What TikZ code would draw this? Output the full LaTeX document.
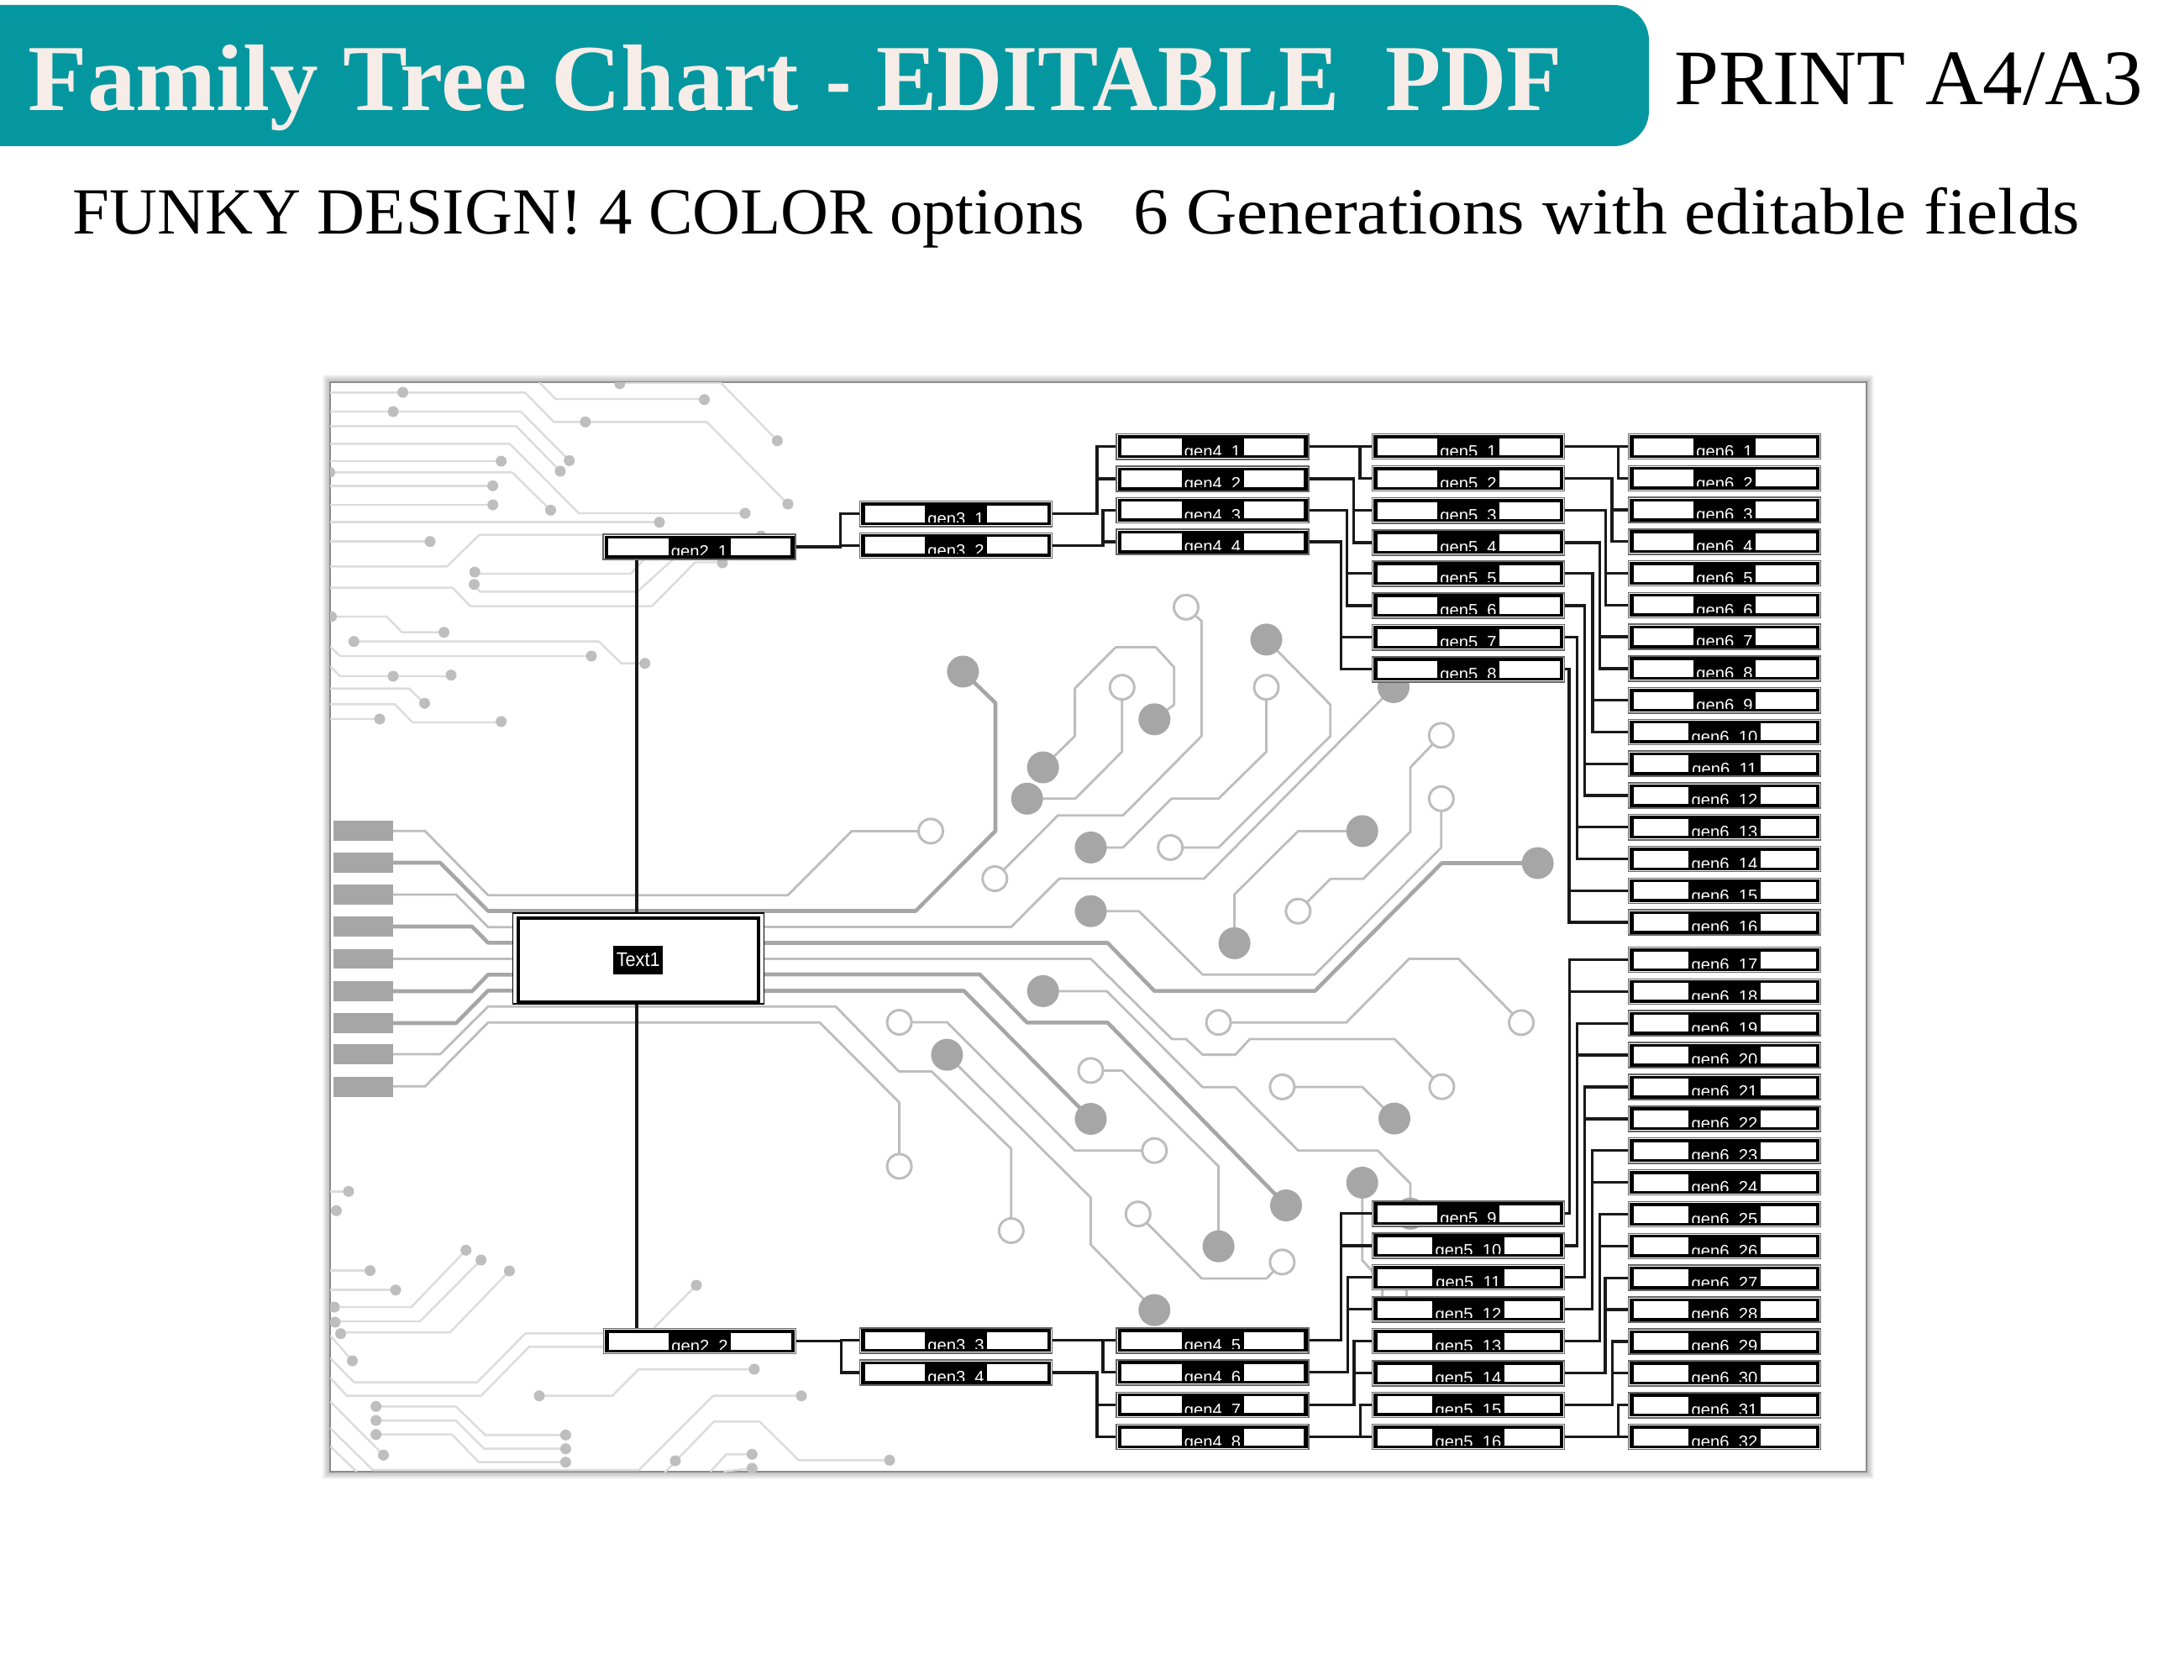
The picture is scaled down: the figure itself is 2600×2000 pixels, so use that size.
\documentclass[tikz,border=0pt]{standalone}
\usepackage{fontspec}
\setmainfont{Liberation Serif}
\newfontfamily\gensans{Liberation Sans}
\usetikzlibrary{calc}
\definecolor{bannerteal}{HTML}{05979F}
\definecolor{bannertext}{HTML}{F6EDE8}
\definecolor{padgray}{HTML}{A6A6A6}
\definecolor{tracegray}{HTML}{BDBDBD}
\definecolor{fadeline}{HTML}{DCDCDC}
\definecolor{fadepad}{HTML}{BEBEBE}
\tikzset{
	thintrace/.style={draw=tracegray, line width=0.8pt, line join=round},
	thicktrace/.style={draw=padgray, line width=1.3pt, line join=round},
	fadetrace/.style={draw=fadeline, line width=0.7pt, line join=round},
	openpad/.style={draw=tracegray, line width=0.85pt, fill=white},
	link/.style={draw=black!90, line width=0.95pt},
	genframe/.style={draw=black!60, line width=0.45pt, fill=white, minimum width=2.29cm, minimum height=0.3cm, inner sep=0pt},
	gentext/.style={text=white, inner sep=0pt, anchor=base, font=\gensans\fontsize{5.75pt}{6pt}\selectfont},
	headtext/.style={inner sep=0pt, anchor=base west}
}
\newcommand\gentag[2]{gen#1\hspace{0.556em}#2}
% name, x, y, generation, number, half width of the tab
\newcommand\genbox[6]{
	\node[genframe] (#1) at (#2,#3) {};
	\fill[black] (#2-113,#3-13.5) rectangle (#2+113,#3+13.5);
	\fill[white] (#2-108.5,#3-10) rectangle (#2-#6,#3+10);
	\fill[white] (#2+#6,#3-10) rectangle (#2+108.5,#3+10);
	\begin{scope}
		\clip (#2-#6,#3-14) rectangle (#2+#6,#3+9.5);
		\node[gentext] (#1t) at (#2,#3+12.8) {\gentag{#4}{#5}};
	\end{scope}
}
% parent, child, child, distance of the trunk from the children
\newcommand\genfork[4]{
	\draw[link] (#1.east) -| ($(#2.west)-(#4,0)$) -- (#2.west);
	\draw[link] (#1.east) -| ($(#3.west)-(#4,0)$) -- (#3.west);
}

\begin{document}
\begin{tikzpicture}[x=0.01cm,y=-0.01cm]
	\useasboundingbox (0,0) rectangle (2600,2000);
	\fill[white] (0,0) rectangle (2600,2000);
	%%%%% HEADER %%%%%
	\fill[bannerteal] (0,6) [rounded corners=0.42cm] -- (1963,6) -- (1963,174) [sharp corners] -- (0,174) -- cycle;
	\node[headtext, text=bannertext] (title) at (33,132) {\fontsize{32pt}{34pt}\selectfont\bfseries\resizebox{9.17cm}{\height}{Family Tree Chart}\hspace{0.32cm}\resizebox{0.3cm}{\height}{-}\hspace{0.3cm}\resizebox{8.16cm}{\height}{EDITABLE\ \ PDF}};
	\node[headtext] (print) at (1993,125) {\resizebox{5.57cm}{\height}{\fontsize{26.6pt}{28pt}\selectfont PRINT A4/A3}};
	\node[headtext] (subtitle) at (86,278) {\fontsize{22.3pt}{24pt}\selectfont\resizebox{12.04cm}{\height}{FUNKY DESIGN! 4 COLOR options}\hspace{0.58cm}\resizebox{11.26cm}{\height}{6 Generations with editable fields}};

	%%%%% SHEET %%%%%
	\foreach \d in {9,8,...,1}
		\fill[black, opacity=0.03] (393-\d,455-\d) rectangle (2222+\d,1752+\d);
	\draw[draw=black!45, line width=0.7pt, fill=white] (393,455) rectangle (2222,1752);

	%%%%% FADED CORNERS %%%%%
	\begin{scope}
		\clip (393,455) rectangle (2222,1752);
		% top left
		\draw[fadetrace] (393,467.3) -- (625,467.3) -- (659.4,502.3) -- (841.2,502.3) -- (938,600);
		\draw[fadetrace] (393,490) -- (620,490) -- (677.7,548.3);
		\draw[fadetrace] (393,507.3) -- (614.6,507.3) -- (667,561);
		\draw[fadetrace] (393,528.3) -- (606.6,528.3) -- (689.2,611) -- (887,611);
		\draw[fadetrace] (393,549) -- (596.6,549);
		\draw[fadetrace] (393,562.3) -- (609.6,562.3) -- (655.5,607.3);
		\draw[fadetrace] (393,578.3) -- (586.7,578.3);
		\draw[fadetrace] (393,601) -- (586.7,601);
		\draw[fadetrace] (393,621.7) -- (785,621.7);
		\draw[fadetrace] (393,644.7) -- (512,644.7);
		\draw[fadetrace] (393,674.3) -- (532.3,674.3) -- (570.6,636.7) -- (906,636.7);
		\draw[fadetrace] (642,455) -- (661.3,475) -- (838.5,475);
		\draw[fadetrace] (737,456) -- (858.4,456) -- (925.4,524.7);
		\draw[fadetrace] (565.2,683) -- (751,683) -- (766.5,666);
		\draw[fadetrace] (564.5,695.7) -- (571.4,704.3) -- (758.9,704.3) -- (801,666);
		\draw[fadetrace] (393,699.7) -- (538.8,699.7) -- (559.9,721.7) -- (776,721.7) -- (827.8,669.3) -- (860,669.3);
		\draw[fadetrace] (394.5,734) -- (460.4,734) -- (478.4,752.7) -- (528.5,752.7);
		\draw[fadetrace] (421.3,763.7) -- (713,763.7) -- (739.7,789.7) -- (767.7,789.7);
		\draw[fadetrace] (393,770) -- (404.9,781) -- (704,781);
		\draw[fadetrace] (393,793.3) -- (404.9,805) -- (537,805);
		\draw[fadetrace] (393,819.7) -- (487,819.7) -- (505.5,837.3);
		\draw[fadetrace] (393,838.3) -- (470,838.3) -- (491,860) -- (596.6,860);
		\draw[fadetrace] (393,856) -- (452,856);
		% bottom left
		\draw[fadetrace] (393,1418.3) -- (415,1418.3);
		\draw[fadetrace] (393,1512.7) -- (440.6,1512.7);
		\draw[fadetrace] (393,1535.7) -- (471,1535.7);
		\draw[fadetrace] (398,1556) -- (489.7,1556) -- (554.7,1488.3);
		\draw[fadetrace] (399,1573) -- (500,1573) -- (572.6,1500);
		\draw[fadetrace] (405.5,1586) -- (536,1586) -- (606.4,1513);
		\draw[fadetrace] (393,1590) -- (419.5,1620);
		\draw[fadetrace] (393,1616.7) -- (421.5,1645.7) -- (568,1645.7) -- (625.5,1587.3) -- (719,1587.3);
		\draw[fadetrace] (393,1640) -- (413,1661.7) -- (572.6,1661.7) -- (630,1603.3) -- (719,1603.3);
		\draw[fadetrace] (642,1661.7) -- (728.9,1661.7) -- (760.7,1630) -- (897.9,1630);
		\draw[fadetrace] (447.6,1674.3) -- (542.6,1674.3) -- (577.7,1708.3) -- (673.4,1708.3);
		\draw[fadetrace] (447.6,1691) -- (542.6,1691) -- (576.4,1724.7) -- (673.4,1724.7);
		\draw[fadetrace] (447.6,1707.7) -- (538,1707.7) -- (570,1740.7) -- (673.4,1740.7);
		\draw[fadetrace] (393,1668.3) -- (456.5,1732.3);
		\draw[fadetrace] (393,1700) -- (443.8,1750) -- (760.7,1750) -- (848.8,1661.7) -- (954,1661.7);
		\draw[fadetrace] (393,1721.7) -- (424.6,1752);
		\draw[fadetrace] (791.4,1752.7) -- (850,1692.3) -- (904.2,1692.3) -- (950.8,1738.3) -- (1059,1738.3);
		\draw[fadetrace] (845.6,1752) -- (864.7,1731.3) -- (895.3,1731.3);
		\draw[fadetrace] (861.5,1751.7) -- (895.3,1748);
		\draw[fadetrace] (829,1530) -- (778.6,1580.7);
		\foreach \p in {{479.5,467},{468,490},{677.7,548.3},{667,561},{596.6,549},{392.6,562.3},{655.5,607.3},
			{586.7,578.3},{586.7,601},{785,621.7},{512,644.7},{696.9,502.3},{838.5,475.7},{737.8,456.7},{925.4,524.7},
			{938,600},{887,611},{906,638},{565.2,681},{564.5,695.7},{860,670},{394.5,734},{528.5,752.7},{421.3,763.7},
			{767.7,789.7},{704,781},{468,805},{537,803.7},{505.5,837.3},{596.6,859},{452,856},
			{415,1418.3},{400.4,1441.3},{440.6,1512.7},{471,1535.7},{398,1556},{554.7,1488.3},{399,1574},{572.6,1500},
			{405.5,1587.7},{606.4,1513},{419.5,1620},{642,1661.7},{897.9,1630},{447.6,1674.3},{447.6,1691},{447.6,1707.7},
			{673.4,1708.3},{673.4,1724.7},{673.4,1740.7},{456.5,1732.3},{954,1661.7},{804,1739},{1059,1738.3},
			{895.3,1731.3},{895.3,1748},{829,1530}}
			\fill[fadepad] (\p) circle (6.5);
	\end{scope}

	%%%%% CIRCUIT %%%%%
	\foreach \y in {989,1027,1065,1103,1141.5,1180,1218,1255,1294}
		\fill[padgray] (397,\y-11.7) rectangle (467.5,\y+11.7);

	\draw[thintrace] (467.5,989.3) -- (506,989.3) -- (581,1065.7) -- (938,1065.7) -- (1014,989.4) -- (1108,989.4);
	\draw[thicktrace] (467.5,1027) -- (524,1027) -- (581,1084.5) -- (1090,1084.5) -- (1185,989.4) -- (1185,836.8) -- (1146.4,799.5);
	\draw[thintrace] (467.5,1065) -- (543,1065) -- (581,1103.7) -- (610,1103.7);
	\draw[thicktrace] (467.5,1103) -- (562,1103) -- (581,1122.3) -- (610,1122.3);
	\draw[thintrace] (467.5,1141.7) -- (610,1141.7);
	\draw[thicktrace] (467.5,1180) -- (562,1180) -- (581,1160.3) -- (610,1160.3);
	\draw[thicktrace] (467.5,1218) -- (543,1218) -- (581,1179.3) -- (610,1179.3);
	\draw[thintrace] (467.5,1255) -- (524,1255) -- (581,1198.3) -- (995,1198.3) -- (1070,1275.4) -- (1109,1275.4) -- (1203.8,1367.7) -- (1203.8,1465);
	\draw[thintrace] (467.5,1293.3) -- (506,1293.3) -- (581,1217.3) -- (976,1217.3) -- (1070.6,1312.5) -- (1070.6,1388.4);

	\draw[thintrace] (909,1103.5) -- (1203.8,1103.5) -- (1261,1046) -- (1433.4,1046) -- (1659,818);
	\draw[thicktrace] (909,1122.5) -- (1318.6,1122.5) -- (1374.3,1179.7) -- (1565.4,1179.7) -- (1716.4,1027.5) -- (1830.6,1027.5);
	\draw[thintrace] (909,1141.5) -- (1298.5,1141.5) -- (1395,1236.9) -- (1412,1236.9) -- (1431.7,1255.6) -- (1470.7,1255.6) -- (1488,1236.9) -- (1660,1236.9) -- (1716.4,1293.7);
	\draw[thicktrace] (909,1160) -- (1166.5,1160) -- (1222.7,1217.4) -- (1318.6,1217.4) -- (1531,1435);
	\draw[thicktrace] (909,1179.5) -- (1147.5,1179.5) -- (1298.5,1332);

	\draw[thintrace] (1412,722.8) -- (1430.5,739.4) -- (1430.5,876.2) -- (1337,970.7) -- (1259.5,970.7) -- (1184.3,1046);
	\draw[thintrace] (1374.3,856.3) -- (1397.8,838.9) -- (1397.8,794.5) -- (1376,770.5) -- (1328.4,770.5) -- (1279.6,819.4) -- (1279.6,876.2) -- (1241.7,913.5);
	\draw[thintrace] (1335.8,818.2) -- (1335.8,894.9) -- (1280,950.8) -- (1222.7,950.8);
	\draw[thintrace] (1507.5,818.2) -- (1507.5,894.9) -- (1450.6,950.8) -- (1394.4,950.8) -- (1337,1008.9) -- (1298.5,1008.9);
	\draw[thintrace] (1507.5,761.4) -- (1583.8,838.9) -- (1583.8,876.2) -- (1450.6,1008.9) -- (1393.2,1008.9);
	\draw[thintrace] (1715.8,875.4) -- (1679,913.5) -- (1679,990.2) -- (1622.8,1046.2) -- (1583.8,1046.2) -- (1545.4,1084.7);
	\draw[thintrace] (1621.7,989.4) -- (1545.4,989.4) -- (1469.6,1064.8) -- (1469.6,1122.9);
	\draw[thintrace] (1715.8,950.8) -- (1715.8,1008.9) -- (1565.4,1160.2) -- (1431.7,1160.2) -- (1355.9,1084.7) -- (1298.5,1084.7);
	\draw[thintrace] (1450.6,1217.2) -- (1602.8,1217.2) -- (1677.4,1141.5) -- (1736.5,1141.5) -- (1811,1217.4);
	\draw[thintrace] (1526.4,1293.9) -- (1621.7,1293.9) -- (1660,1331.6);
	\draw[thintrace] (1241.7,1179.9) -- (1317.5,1179.9) -- (1431.7,1294.3) -- (1470.7,1294.3) -- (1545.4,1369.7) -- (1640,1369.7) -- (1679,1409) -- (1679,1444);
	\draw[thintrace] (1621.7,1407.9) -- (1621.7,1500.3) -- (1640,1520);
	\draw[thintrace] (1070.6,1217) -- (1127.4,1217) -- (1279.6,1369.7) -- (1374.3,1369.7);
	\draw[thintrace] (1127.4,1255.7) -- (1298.5,1425.7) -- (1298.5,1481.7) -- (1374.3,1559.6);
	\draw[thintrace] (1298.5,1274.4) -- (1335.8,1274.4) -- (1450.6,1388.4) -- (1450.6,1483.7);
	\draw[thintrace] (1354.8,1445.2) -- (1430.5,1521.9) -- (1508,1521.9) -- (1526.4,1502.4);

	\foreach \p in {{1146.4,799.5},{1241.7,913.5},{1222.7,950.8},{1374.3,856.3},{1507.5,761.4},{1298.5,1008.9},{1298.5,1084.7},
		{1659,818},{1621.7,989.4},{1469.6,1122.9},{1830.6,1027.5},{1241.7,1179.9},{1127.4,1255.7},{1298.5,1332},{1660,1331.6},
		{1621.7,1407.9},{1531,1435},{1450.6,1483.7},{1374.3,1559.6},{1679,1444.8}}
		\fill[padgray] (\p) circle (19);
	\foreach \p in {{1412,722.8},{1335.8,818.2},{1507.5,818.2},{1108,989.4},{1184.3,1046},{1393.2,1008.9},{1715.8,875.4},{1715.8,950.8},
		{1545.4,1084.7},{1450.6,1217.2},{1811,1217.4},{1070.6,1217},{1716.4,1293.7},{1526.4,1293.9},{1298.5,1274.4},{1374.3,1369.7},
		{1070.6,1388.4},{1203.8,1465},{1354.8,1445.2},{1526.4,1502.4},{1660,1540}}
		\draw[openpad] (\p) circle (14.5);

	%%%%% ROOT %%%%%
	\node[draw=black, line width=0.35pt, fill=white, minimum width=2.99cm, minimum height=1.08cm, inner sep=0pt] (root) at (760,1141) {};
	\draw[black, line width=1pt] (617,1093) rectangle (903,1192.5);
	\node[fill=black, text=white, inner sep=0pt, minimum width=0.586cm, minimum height=0.34cm, font=\gensans\fontsize{6.7pt}{7pt}\selectfont] (rootlabel) at (759.7,1142.7) {\scalebox{0.92}[1]{Text1}};

	%%%%% BOXES %%%%%
	\genbox{g21}{832.5}{651}{2}{1}{37}
	\genbox{g22}{833}{1596.5}{2}{2}{37}
	\genbox{g31}{1138}{611.7}{3}{1}{37}
	\genbox{g32}{1138}{649.3}{3}{2}{37}
	\genbox{g33}{1138}{1595.7}{3}{3}{37}
	\genbox{g34}{1138}{1634}{3}{4}{37}
	\foreach \i/\y in {1/531.7,2/570,3/607.3,4/645,5/1595.7,6/1633.8,7/1672.4,8/1710.5}
		{\genbox{g4\i}{1443.5}{\y}{4}{\i}{37}}
	\foreach \i/\y/\w in {1/531.5/37,2/569.6/37,3/607.7/37,4/645.9/37,5/682.8/37,6/720.9/37,7/758.7/37,8/796.8/37,
		9/1444.8/37,10/1482.9/43,11/1520.6/43,12/1558.8/43,13/1596.5/43,14/1634.7/43,15/1672.4/43,16/1710.6/43}
		{\genbox{g5\i}{1748}{\y}{5}{\i}{\w}}
	\foreach \i/\y/\w in {1/531.5/37,2/569.3/37,3/607/37,4/644.8/37,5/682.6/37,6/720.4/37,7/758.1/37,8/795.9/37,
		9/833.7/37,10/871.4/43,11/909.2/43,12/947/43,13/984.7/43,14/1022.5/43,15/1060.3/43,16/1098/43,
		17/1142.5/43,18/1180.4/43,19/1218.2/43,20/1256.1/43,21/1294/43,22/1331.9/43,23/1369.7/43,24/1407.6/43,
		25/1445.5/43,26/1483.3/43,27/1521.2/43,28/1559.1/43,29/1597/43,30/1634.8/43,31/1672.7/43,32/1710.6/43}
		{\genbox{g6\i}{2053}{\y}{6}{\i}{\w}}

	%%%%% CONNECTORS %%%%%
	\draw[link] ([xshift=-0.02cm]root.north) -- ([xshift=-0.02cm]root.north |- g21.south);
	\draw[link] ([xshift=-0.02cm]root.south) -- ([xshift=-0.02cm]root.south |- g22.north);
	\genfork{g21}{g31}{g32}{22}
	\genfork{g22}{g33}{g34}{21}
	\genfork{g31}{g41}{g42}{22}
	\genfork{g32}{g43}{g44}{15}
	\genfork{g33}{g45}{g46}{15}
	\genfork{g34}{g47}{g48}{22}
	\genfork{g41}{g51}{g52}{13.6}
	\genfork{g42}{g53}{g54}{21}
	\genfork{g43}{g55}{g56}{29}
	\genfork{g44}{g57}{g58}{36.4}
	\genfork{g45}{g59}{g510}{36}
	\genfork{g46}{g511}{g512}{28}
	\genfork{g47}{g513}{g514}{20.5}
	\genfork{g48}{g515}{g516}{13}
	\genfork{g51}{g61}{g62}{11}
	\genfork{g52}{g63}{g64}{18.6}
	\genfork{g53}{g65}{g66}{26}
	\genfork{g54}{g67}{g68}{33}
	\genfork{g55}{g69}{g610}{41.5}
	\genfork{g56}{g611}{g612}{51}
	\genfork{g57}{g613}{g614}{60}
	\genfork{g58}{g615}{g616}{69.6}
	\genfork{g59}{g617}{g618}{69}
	\genfork{g510}{g619}{g620}{60}
	\genfork{g511}{g621}{g622}{51}
	\genfork{g512}{g623}{g624}{42}
	\genfork{g513}{g625}{g626}{33}
	\genfork{g514}{g627}{g628}{26.6}
	\genfork{g515}{g629}{g630}{18}
	\genfork{g516}{g631}{g632}{11}
\end{tikzpicture}
\end{document}
